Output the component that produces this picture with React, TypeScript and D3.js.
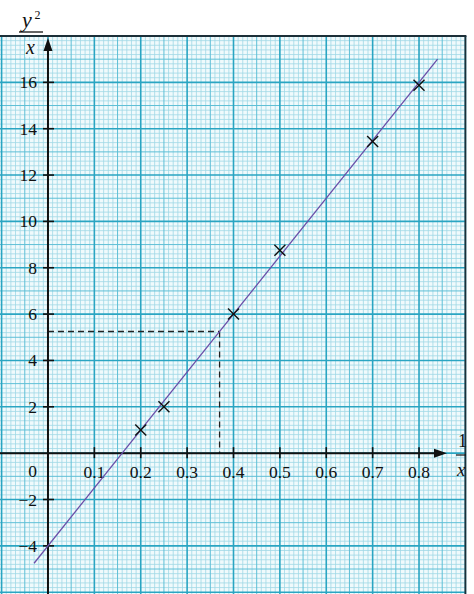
import React from "react";
import * as d3 from "d3";

const xTicks = [0.1, 0.2, 0.3, 0.4, 0.5, 0.6, 0.7, 0.8];
const yTicks = [-4, -2, 2, 4, 6, 8, 10, 12, 14, 16];
const pointX = [0.2, 0.25, 0.4, 0.5, 0.7, 0.8];
const pointY = [1, 2, 6, 8.75, 13.45, 15.88];
const fitX = [-0.03, 0.84];
const fitY = [-4.75, 17.0];
const readX = [0.37];
const readY = [5.25];

const W = 474;
const H = 594;
const SERIF = "Liberation Serif, DejaVu Serif, serif";

export default function App() {
  const x = d3.scaleLinear().domain([-0.1, 0.9]).range([1.6, 465.4]);
  const y = d3.scaleLinear().domain([-6, 18]).range([592.2, 36]);

  const fineX = d3.range(-100, 901, 10).map((v) => v / 1000);
  const fineY = d3.range(-60, 181, 2).map((v) => v / 10);

  const fineLines: React.ReactNode[] = [];
  const medLines: React.ReactNode[] = [];
  const majLines: React.ReactNode[] = [];
  fineX.forEach((v, i) => {
    const k = Math.round(v * 100);
    const px = x(v);
    const ln = <line key={"vx" + i} x1={px} x2={px} y1={y(18)} y2={H} />;
    if (k % 10 === 0) majLines.push(ln);
    else if (k % 5 === 0) medLines.push(ln);
    else fineLines.push(ln);
  });
  fineY.forEach((v, i) => {
    const k = Math.round(v * 10);
    const py = y(v);
    const ln = <line key={"hy" + i} x1={0} x2={x(0.9)} y1={py} y2={py} />;
    if (k % 20 === 0) majLines.push(ln);
    else if (k % 10 === 0) medLines.push(ln);
    else fineLines.push(ln);
  });

  const x0 = x(0);
  const y0 = y(0);
  const ts = { fontFamily: SERIF };
  const line = d3
    .line<number>()
    .x((_, i) => x(fitX[i]))
    .y((d) => y(d));

  return (
    <svg
      width={W}
      height={H}
      style={{ position: "absolute", left: 0, top: 0, background: "#fff" }}
    >
      <rect x={0} y={y(18)} width={x(0.9)} height={H - y(18)} fill="#f0fafc" />
      <g stroke="#a0d8e6" strokeWidth={0.8}>{fineLines}</g>
      <g stroke="#5ebfd6" strokeWidth={1}>{medLines}</g>
      <g stroke="#2aa5c2" strokeWidth={1.6}>{majLines}</g>
      <line x1={0} x2={x(0.9) + 1} y1={y(18)} y2={y(18)} stroke="#1c2f38" strokeWidth={1.8} />
      <line x1={x(0.9)} x2={x(0.9)} y1={y(18)} y2={H} stroke="#1c2f38" strokeWidth={1.8} />

      <g stroke="#222" strokeWidth={1.3} strokeDasharray="6,4" fill="none">
        <line x1={x0} x2={x(readX[0])} y1={y(readY[0])} y2={y(readY[0])} />
        <line x1={x(readX[0])} x2={x(readX[0])} y1={y(readY[0])} y2={y0} />
      </g>

      <g stroke="#111" strokeWidth={2} fill="#111">
        <line x1={x0} x2={x0} y1={H} y2={46} />
        <path d={`M${x0},38 L${x0 - 4.5},51 L${x0 + 4.5},51 Z`} stroke="none" />
        <line x1={0} x2={439} y1={y0} y2={y0} />
        <path d={`M447,${y0} L434,${y0 - 4.5} L434,${y0 + 4.5} Z`} stroke="none" />
        {xTicks.map((t) => (
          <line key={"xt" + t} x1={x(t)} x2={x(t)} y1={y0 - 6} y2={y0 + 5} strokeWidth={1.6} />
        ))}
        {yTicks.map((t) => (
          <line key={"yt" + t} x1={x0 - 5} x2={x0 + 6} y1={y(t)} y2={y(t)} strokeWidth={1.6} />
        ))}
      </g>

      <g fontSize={17.5} fill="#111">
        {xTicks.map((t) => (
          <text key={"xl" + t} style={ts} x={x(t)} y={y0 + 25} textAnchor="middle">
            {d3.format(".1f")(t)}
          </text>
        ))}
        {yTicks.map((t) => (
          <text key={"yl" + t} style={ts} x={37} y={y(t) + 6} textAnchor="end">
            {t < 0 ? "\u2212" + Math.abs(t) : String(t)}
          </text>
        ))}
        <text style={ts} x={37} y={y0 + 24} textAnchor="end">0</text>
      </g>

      <path d={line(fitY) || ""} stroke="#6a4ea8" strokeWidth={1.3} fill="none" />

      <g stroke="#111" strokeWidth={1.4}>
        {pointX.map((px, i) => {
          const cx = x(px);
          const cy = y(pointY[i]);
          const s = 5.5;
          return (
            <g key={"p" + i}>
              <line x1={cx - s} x2={cx + s} y1={cy - s} y2={cy + s} />
              <line x1={cx - s} x2={cx + s} y1={cy + s} y2={cy - s} />
            </g>
          );
        })}
      </g>

      <g fill="#111">
        <text style={ts} x={22} y={27} fontSize={22} fontStyle="italic">y</text>
        <text style={ts} x={34.5} y={19} fontSize={12}>2</text>
        <line x1={19} x2={43} y1={32} y2={32} stroke="#111" strokeWidth={1.3} />
        <rect x={25} y={41} width={12} height={16} fill="#f0fafc" opacity={0.8} />
        <text style={ts} x={26} y={54} fontSize={20} fontStyle="italic">x</text>

        <text style={ts} x={458} y={447} fontSize={18}>1</text>
        <line x1={456} x2={466} y1={455} y2={455} stroke="#111" strokeWidth={1.2} />
        <text style={ts} x={457} y={476} fontSize={19} fontStyle="italic">x</text>
      </g>
    </svg>
  );
}
